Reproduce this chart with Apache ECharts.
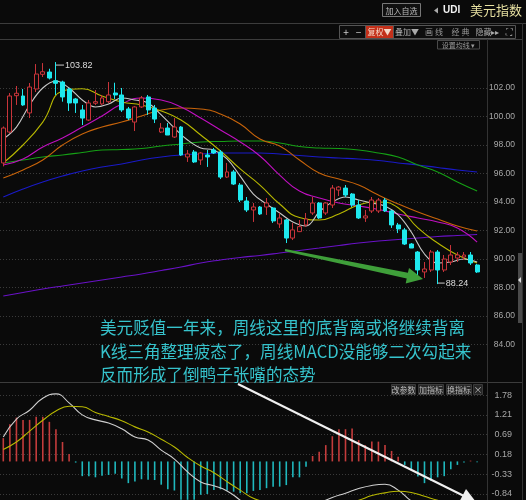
<!DOCTYPE html>
<html><head><meta charset="utf-8">
<script src="https://cdn.jsdelivr.net/npm/echarts@6/dist/echarts.min.js"></script>
<style>html,body{margin:0;padding:0;background:#0a0a0a;}#c{width:526px;height:500px;}</style>
</head><body><div id="c"></div>
<script>
// ---- weekly OHLC of the US Dollar Index (UDI) ----
const opens  = [96.74,98.91,101.46,101.44,100.25,101.93,102.96,103.12,102.51,102.42,101.93,101.23,100.46,99.75,100.93,100.88,101.04,101.65,101.51,100.53,99.61,100.67,101.37,100.60,98.91,99.19,98.56,99.26,97.16,97.51,96.95,97.30,97.65,97.51,95.75,96.11,95.19,94.07,93.44,93.65,93.65,93.58,92.46,92.74,91.47,91.92,92.39,93.23,93.93,93.23,93.79,94.84,94.98,94.56,93.79,92.88,93.37,93.37,94.14,93.37,92.39,92.04,91.05,90.49,89.09,89.23,90.49,89.23,89.79,90.07,90.14,90.28,89.58];
const closes = [99.19,101.44,101.63,100.81,102.07,102.98,103.14,102.70,102.33,101.37,100.95,100.95,99.89,100.95,101.04,101.30,101.51,101.51,100.46,99.89,100.67,101.30,100.46,99.82,99.19,98.70,99.26,97.30,97.37,96.81,97.44,97.16,97.44,95.75,96.11,95.26,94.14,93.44,93.65,93.16,93.93,92.67,92.88,91.47,92.04,92.27,92.81,93.93,92.88,93.93,94.98,95.05,94.49,93.79,92.88,93.02,94.14,94.14,93.37,92.39,92.11,91.05,90.77,89.23,89.30,90.49,89.23,90.00,90.28,90.28,90.28,89.72,89.09];
const lows   = [96.50,98.84,100.81,100.75,99.89,101.72,102.77,102.60,101.51,101.04,100.39,100.25,99.40,99.68,100.81,100.81,100.95,101.23,100.32,99.75,98.98,100.60,100.11,99.54,98.84,98.70,98.49,97.23,96.81,96.74,96.60,96.46,97.37,95.61,95.68,95.19,94.00,93.30,92.60,93.09,93.09,92.53,92.18,91.12,91.33,91.89,92.25,93.09,92.81,93.09,93.58,94.42,94.35,93.65,92.81,92.60,93.23,93.23,93.30,92.18,91.82,90.98,90.77,88.67,88.67,89.09,88.24,89.09,89.58,89.79,89.93,89.58,89.02];
const highs  = [99.30,101.65,102.14,101.93,102.35,103.68,103.75,103.35,103.82,102.51,102.00,101.30,100.81,101.16,101.86,101.51,102.42,102.37,102.00,100.67,100.74,101.44,101.51,100.81,99.54,99.54,99.89,99.33,97.65,97.65,97.51,97.65,97.79,97.65,96.74,96.25,95.33,94.35,93.93,93.72,94.28,93.65,93.23,92.81,92.53,92.74,93.23,94.35,94.00,94.00,95.19,95.12,95.19,94.63,94.14,93.44,94.35,94.28,94.28,93.44,92.53,92.18,91.12,90.56,89.79,90.63,90.63,90.28,90.98,90.49,90.49,90.49,89.65];

const ma5Every2  = [98.42,99.26,100.81,102.00,102.49,102.00,101.16,100.67,100.88,101.30,101.16,100.95,100.11,99.19,98.35,97.79,97.65,97.02,95.82,94.56,93.86,93.23,92.60,92.32,93.30,94.00,94.35,94.14,93.93,93.72,93.09,91.89,90.35,89.72,89.79,90.00,89.79];
const ma10Every3 = [96.74,98.00,99.61,101.79,101.95,101.44,101.02,100.81,100.39,99.75,98.70,97.58,96.32,95.19,93.86,92.91,92.74,93.16,93.79,94.00,93.60,92.18,91.12,90.28,89.72];
const ma20Every3 = [96.60,97.02,97.86,98.49,99.26,100.04,100.88,101.30,101.16,100.67,99.89,99.05,98.21,97.23,95.89,94.77,94.28,93.93,93.72,93.47,93.16,92.88,92.60,92.18,91.19];
const ma30Every3 = [95.68,96.25,96.95,98.00,98.77,99.26,99.61,100.04,100.46,100.60,100.53,100.18,99.47,98.42,97.93,96.95,96.04,95.61,95.19,94.49,93.86,93.30,92.81,92.32,91.96];
const ma60Every3 = [96.74,96.95,97.16,97.30,97.47,97.65,97.68,97.75,97.93,98.07,98.21,98.25,98.28,98.28,98.14,97.89,97.79,97.75,97.65,97.44,97.16,96.60,96.11,95.40,94.77];
const ma120Every3= [94.35,94.91,95.40,95.82,96.18,96.46,96.67,96.95,97.16,97.30,97.37,97.44,97.44,97.44,97.37,97.26,97.16,97.09,97.02,96.91,96.74,96.60,96.42,96.25,96.11];
const ma250Every3= [87.40,87.65,87.89,88.11,88.32,88.53,88.74,88.95,89.19,89.44,89.72,89.93,90.11,90.25,90.42,90.60,90.77,90.95,91.12,91.26,91.37,91.47,91.58,91.65,91.72];

// ---- MACD ----
const macdHist = [0.60,0.96,1.13,1.07,1.07,1.15,1.15,1.02,0.83,0.50,0.19,-0.03,-0.38,-0.38,-0.41,-0.37,-0.35,-0.32,-0.44,-0.56,-0.52,-0.46,-0.47,-0.48,-0.60,-0.72,-0.75,-0.99,-0.99,-0.99,-0.86,-0.84,-0.74,-0.72,-0.75,-0.78,-0.82,-0.82,-0.76,-0.74,-0.69,-0.65,-0.65,-0.61,-0.41,-0.41,-0.14,0.14,0.25,0.42,0.65,0.83,0.83,0.85,0.55,0.42,0.51,0.51,0.42,0.27,0.12,-0.09,-0.22,-0.39,-0.56,-0.50,-0.41,-0.38,-0.20,-0.09,-0.03,0.02,-0.02];
const difEvery2 = [0.63,1.09,1.32,1.63,1.74,1.51,1.20,1.07,0.99,0.84,0.63,0.55,0.29,0.06,-0.27,-0.53,-0.63,-0.76,-1.00,-1.25,-1.35,-1.40,-1.38,-1.25,-1.08,-0.93,-0.82,-0.70,-0.62,-0.59,-0.74,-1.02,-1.20,-1.30,-1.32,-1.30,-1.28];
const deaEvery2 = [0.31,0.50,0.78,1.06,1.30,1.42,1.41,1.26,1.16,1.05,0.89,0.76,0.57,0.37,0.10,-0.12,-0.29,-0.52,-0.74,-0.95,-1.05,-1.12,-1.16,-1.18,-1.18,-1.15,-1.08,-1.00,-0.88,-0.81,-0.77,-0.80,-0.90,-1.00,-1.08,-1.14,-1.18];

const macdTickLabels = ['-0.84','-0.33','0.18','0.69','1.21','1.78'];
const highLabel = 103.82, lowLabel = 88.24;

const N = opens.length;
const categories = Array.from({length: N + 1}, (_, i) => String(i + 1));
const ohlc = opens.map((o, i) => [o, closes[i], lows[i], highs[i]]);
function spread(arr, step) {
  const out = new Array(N).fill(null);
  arr.forEach((v, k) => { if (k * step < N) out[k * step] = v; });
  return out;
}

const chart = echarts.init(document.getElementById('c'), null, {renderer: 'canvas'});
const gridLine = {show: true, lineStyle: {color: '#3a3a3a', type: [1, 2], width: 1}};
const lblFont = "'Liberation Sans Narrow','Liberation Sans',sans-serif";
const cjk = "'Noto Sans CJK SC',sans-serif";

function maSeries(data, color, smooth) {
  return {type: 'line', xAxisIndex: 0, yAxisIndex: 0, data: data, connectNulls: true, smooth: smooth,
    showSymbol: false, symbol: 'none', silent: true, z: 3,
    lineStyle: {color: color, width: 1.1}};
}
function T(x, y, text, size, fill, align, extra) {
  return Object.assign({type: 'text', x: x, y: y, silent: true, z: 100,
    style: {text: text, fill: fill, font: size + 'px ' + cjk, textAlign: align || 'center', textVerticalAlign: 'middle'}}, extra || {});
}
function R(x, y, w, h, fill, stroke) {
  return {type: 'rect', silent: true, z: 99, shape: {x: x, y: y, width: w, height: h}, style: {fill: fill, stroke: stroke || null, lineWidth: 1}};
}
function L(x1, y1, x2, y2, color, w) {
  return {type: 'line', silent: true, z: 98, shape: {x1: x1, y1: y1, x2: x2, y2: y2}, style: {stroke: color, lineWidth: w || 1}};
}

const graphics = [
  L(0, 23.5, 526, 23.5, '#3c3c3c'),
  L(0, 39.5, 522, 39.5, '#3c3c3c'),
  L(0, 382.5, 522, 382.5, '#3c3c3c'),
  L(487.5, 39, 487.5, 500, '#333'),
  L(522.5, 23, 522.5, 500, '#333'),
  R(518, 253, 4, 70, '#4a4a4a'),
  {type: 'polygon', silent: true, z: 100, shape: {points: [[518, 280], [521, 277], [521, 283]]}, style: {fill: '#ddd'}},
  // top bar
  R(382.5, 3.5, 38, 13, '#101010', '#777'),
  T(401.5, 10.5, '加入自选', 8, '#bbb'),
  {type: 'polygon', silent: true, z: 100, shape: {points: [[434, 10.5], [438, 7.5], [438, 13.5]]}, style: {fill: '#aaa'}},
  T(443, 10.5, 'UDI', 10, '#f2f2f2', 'left', {style: {text: 'UDI', fill: '#f2f2f2', font: 'bold 10px "Liberation Sans",sans-serif', textAlign: 'left', textVerticalAlign: 'middle'}}),
  T(470, 10.5, '美元指数', 13, '#e6dfa0', 'left'),
  // toolbar
  R(339.5, 25.5, 176, 13, '#0d0d0d', '#555'),
  R(365.5, 25.5, 28, 13, '#c3301a', '#555'),
  L(352.5, 25.5, 352.5, 38.5, '#555'), L(393.5, 25.5, 393.5, 38.5, '#555'), L(420.5, 25.5, 420.5, 38.5, '#555'),
  L(447.5, 25.5, 447.5, 38.5, '#555'), L(473.5, 25.5, 473.5, 38.5, '#555'), L(501.5, 25.5, 501.5, 38.5, '#555'),
  T(346, 32, '+', 10, '#ccc'), T(358.5, 32, '−', 10, '#ccc'),
  T(379.5, 32, '复权▼', 8, '#f4d8c8'), T(407, 32, '叠加▼', 8, '#aaa'),
  T(434, 32, '画 线', 8, '#999'), T(460.5, 32, '经 典', 8, '#999'),
  T(487.5, 32, '隐藏▸▸', 8, '#aaa'), T(508.5, 32, '⛶', 9, '#aaa'),
  R(437.5, 40.5, 42, 8.5, '#0d0d0d', '#4a4a4a'),
  T(458.5, 45, '设置均线 ▾', 7, '#999'),
  // MACD pane buttons
  R(391.5, 384.5, 24, 10, '#262626', '#3a3a3a'), T(403.5, 389.5, '改参数', 8, '#bbb'),
  R(418.5, 384.5, 25, 10, '#262626', '#3a3a3a'), T(431, 389.5, '加指标', 8, '#bbb'),
  R(446.5, 384.5, 25, 10, '#262626', '#3a3a3a'), T(459, 389.5, '换指标', 8, '#bbb'),
  R(473.5, 384.5, 9, 10, '#262626', '#3a3a3a'), T(478, 389.5, '×', 9, '#bbb'),
  // annotation
  T(100, 328, '美元贬值一年来，周线这里的底背离或将继续背离', 16.6, '#36c3cc', 'left'),
  T(100, 352, 'K线三角整理疲态了，周线MACD没能够二次勾起来', 16.6, '#36c3cc', 'left'),
  T(100, 375, '反而形成了倒鸭子张嘴的态势', 16.6, '#36c3cc', 'left'),
  // green arrow
  {type: 'polygon', silent: true, z: 97, shape: {points: [[284.8, 251.2], [285.2, 249], [407.9, 272.8], [409, 267.9], [423, 279], [405.7, 283.5], [406.7, 278.6]]},
    style: {fill: '#3f9f3a'}},
  // white arrow
  {type: 'line', silent: true, z: 97, shape: {x1: 238, y1: 384, x2: 466, y2: 497}, style: {stroke: '#f0f0f0', lineWidth: 2}},
  {type: 'polygon', silent: true, z: 97, shape: {points: [[476, 502], [460, 500.5], [466, 489]]}, style: {fill: '#f0f0f0'}}
];

const option = {
  backgroundColor: '#0a0a0a',
  animation: false,
  graphic: graphics,
  grid: [
    {left: 0, width: 487, top: 59.5, height: 313.5, containLabel: false},
    {left: 0, width: 487, top: 383, height: 111, containLabel: false}
  ],
  xAxis: [
    {type: 'category', gridIndex: 0, data: categories, boundaryGap: true, show: false},
    {type: 'category', gridIndex: 1, data: categories, boundaryGap: true, show: false}
  ],
  yAxis: [
    {type: 'value', gridIndex: 0, position: 'right', min: 82, max: 104, interval: 2, scale: true,
      axisLine: {show: false}, axisTick: {show: false},
      splitLine: Object.assign({showMinLine: false, showMaxLine: false}, gridLine),
      axisLabel: {color: '#a8a8a8', fontSize: 8.5, fontFamily: lblFont, align: 'right', margin: 28,
        formatter: v => (v > 83 && v < 103) ? v.toFixed(2) : ''}},
    {type: 'value', gridIndex: 1, position: 'right', min: -0.84, max: 2.021, interval: 0.51,
      axisLine: {show: false}, axisTick: {show: false},
      splitLine: Object.assign({showMinLine: true, showMaxLine: false}, gridLine),
      axisLabel: {color: '#a8a8a8', fontSize: 9, fontFamily: "'Liberation Sans',sans-serif", align: 'right', margin: 25,
        showMinLabel: true,
        formatter: v => {
          const k = Math.round((v + 0.84) / 0.51);
          if (k >= 0 && k <= 5 && Math.abs(v - (-0.84 + 0.51 * k)) < 0.02) return macdTickLabels[k];
          return '';
        }}}
  ],
  series: [
    maSeries(spread(ma250Every3, 3), '#6a12c8', true),
    maSeries(spread(ma120Every3, 3), '#1a1ac8', true),
    maSeries(spread(ma60Every3, 3), '#15a015', true),
    maSeries(spread(ma30Every3, 3), '#c8640a', true),
    maSeries(spread(ma20Every3, 3), '#c010c0', true),
    maSeries(spread(ma10Every3, 3), '#b8b800', true),
    maSeries(spread(ma5Every2, 2), '#c8c8c8', 0.4),
    {type: 'candlestick', xAxisIndex: 0, yAxisIndex: 0, data: ohlc, barWidth: 4.4, z: 5,
      itemStyle: {color: '#0a0a0a', color0: '#1ee8ee', borderColor: '#c8343a', borderColor0: '#1ee8ee', borderWidth: 1},
      markPoint: {symbol: 'circle', symbolSize: 0.1, silent: true, animation: false,
        data: [
          {coord: ['9', highLabel], value: highLabel,
            label: {show: true, position: 'right', distance: 0, offset: [0, 3], formatter: '{l|}{t|' + highLabel.toFixed(2) + '}',
              rich: {l: {width: 8, height: 1, backgroundColor: '#cccccc', verticalAlign: 'middle'},
                     t: {color: '#dddddd', fontSize: 9, fontFamily: "'Liberation Sans',sans-serif", padding: [0, 0, 0, 1], verticalAlign: 'middle'}}}},
          {coord: ['67', lowLabel], value: lowLabel,
            label: {show: true, position: 'right', distance: 0, offset: [0, -1], formatter: '{l|}{t|' + lowLabel.toFixed(2) + '}',
              rich: {l: {width: 7, height: 1, backgroundColor: '#cccccc', verticalAlign: 'middle'},
                     t: {color: '#dddddd', fontSize: 9, fontFamily: "'Liberation Sans',sans-serif", padding: [0, 0, 0, 1], verticalAlign: 'middle'}}}}
        ]}},
    {type: 'bar', xAxisIndex: 1, yAxisIndex: 1, data: macdHist, barWidth: 1.6, z: 2, silent: true, clip: false,
      itemStyle: {color: p => p.value >= 0 ? '#c43c3c' : '#1fb8bd'}},
    {type: 'line', xAxisIndex: 1, yAxisIndex: 1, data: spread(difEvery2, 2), connectNulls: true, smooth: true, clip: false,
      showSymbol: false, symbol: 'none', silent: true, z: 3, lineStyle: {color: '#d0d0d0', width: 1.1}},
    {type: 'line', xAxisIndex: 1, yAxisIndex: 1, data: spread(deaEvery2, 2), connectNulls: true, smooth: true, clip: false,
      showSymbol: false, symbol: 'none', silent: true, z: 3, lineStyle: {color: '#b8b800', width: 1.1}}
  ]
};
chart.setOption(option);
</script>
</body></html>
